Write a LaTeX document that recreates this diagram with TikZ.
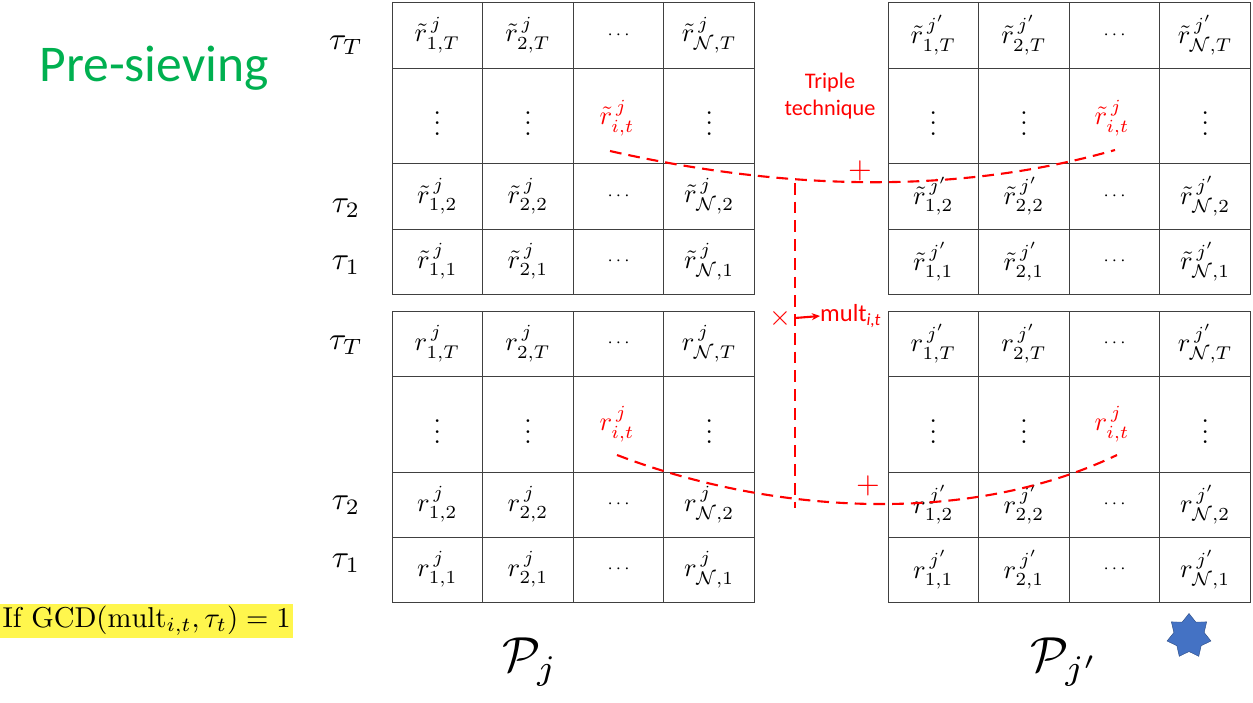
\documentclass[tikz,border=0pt]{standalone}
\usepackage{graphicx}
\usepackage{fontspec}
\setsansfont{Carlito}
\usetikzlibrary{shapes.geometric,arrows.meta}
\definecolor{pgreen}{RGB}{0,176,80}
\definecolor{starblue}{RGB}{68,114,196}
\newcommand{\cellm}[1]{\scalebox{2.25}{$#1$}}
\begin{document}
\begin{tikzpicture}[x=0.03cm,y=-0.03cm,
  gridline/.style={draw=black!75,line width=0.8pt},
  cell/.style={inner sep=0pt},
  redd/.style={red,line width=1.8pt,dash pattern=on 10pt off 6pt},
  redtxt/.style={red,font=\sffamily\fontsize{19}{23}\selectfont}]
\useasboundingbox (0,0) rectangle (1253,703);
% tables
\foreach \x/\ya/\yb/\yc/\yd/\ye/\tl/\pr/\nm in
 {392/2/68/163/229/294/\tilde{r}/j/A, 888/2/68/163/229/294/\tilde{r}/j'/B,
  392/311/376/472/537/602/r/j/C, 888/311/376/472/537/602/r/j'/D}{
  \pgfmathsetmacro{\w}{362.5}
  \pgfmathsetmacro{\ma}{(\ya+\yb)/2}
  \pgfmathsetmacro{\mb}{(\yb+\yc)/2}
  \pgfmathsetmacro{\mc}{(\yc+\yd)/2}
  \pgfmathsetmacro{\md}{(\yd+\ye)/2}
  \foreach \yy in {\ya,\yb,\yc,\yd,\ye} \draw[gridline] (\x,\yy) -- ++(\w,0);
  \foreach \k in {0,1,2,3,4} \draw[gridline] (\x+\k*\w/4,\ya) -- (\x+\k*\w/4,\ye);
  \foreach \k/\lab in {0/1,1/2,3/\mathcal{N}}{
    \node[cell] (\nm t\k) at (\x+\k*\w/4+\w/8,\ma) {\cellm{\tl^{\,\pr}_{\lab,T}}};
    \node[cell] (\nm b\k) at (\x+\k*\w/4+\w/8,\mc) {\cellm{\tl^{\,\pr}_{\lab,2}}};
    \node[cell] (\nm a\k) at (\x+\k*\w/4+\w/8,\md) {\cellm{\tl^{\,\pr}_{\lab,1}}};
    \node[cell] (\nm v\k) at (\x+\k*\w/4+\w/8,\mb) {\cellm{\vdots}};
  }
  \foreach \yy/\s in {\ma/t,\mc/b,\md/a}
    \node[cell] (\nm\s d) at (\x+2*\w/4+\w/8,\yy) {\scalebox{1.6}{$\cdots$}};
}
% tau labels
\foreach \y/\l/\n in {45/T/t1,208/2/t2,265/1/t3,345/T/t4,505/2/t5,563/1/t6}
  \node[cell] (\n) at (346,\y) {\scalebox{2.7}{$\tau_{\l}$}};
% red labels
\node[cell,red] (r1) at (617,118) {\cellm{\tilde{r}^{\,j}_{i,t}}};
\node[cell,red] (r2) at (1112,118) {\cellm{\tilde{r}^{\,j}_{i,t}}};
\node[cell,red] (r3) at (617,424) {\cellm{r^{\,j}_{i,t}}};
\node[cell,red] (r4) at (1112,424) {\cellm{r^{\,j}_{i,t}}};
\coordinate (c1) at (610,151); \coordinate (c2) at (1115,150);
\coordinate (c3) at (617,455); \coordinate (c4) at (1117,455);
\draw[redd] (c1) .. controls (760,185) and (940,200) .. (c2);
\draw[redd] (c3) .. controls (760,510) and (960,530) .. (c4);
\coordinate (v1) at (795,183); \coordinate (v2) at (795,508);
\draw[redd] (v1) -- (v2);
\coordinate (m0) at (795,318);
\node[red,font=\sffamily\fontsize{21}{24}\selectfont,inner sep=0pt,anchor=west] (mult) at (820,316) {mult\textsubscript{\itshape i,t}};
\draw[red,line width=1.8pt,-{Stealth[length=7pt,width=6pt]}] (m0) -- (mult.west);
\node[cell,red] (times) at (780,318) {\scalebox{2.4}{$\times$}};
\node[cell,red] (p1) at (860,171) {\scalebox{2.6}{$+$}};
\node[cell,red] (p2) at (868,486) {\scalebox{2.6}{$+$}};
\node[redtxt,align=center,inner sep=0pt] (tt) at (830,96) {Triple\\technique};
\node[pgreen,font=\sffamily\fontsize{44}{50}\selectfont,inner sep=0pt] (pre) at (154,68) {Pre-sieving};
\node[fill=yellow!70,inner sep=2pt,anchor=west] (gcd) at (0,621) {\scalebox{2.45}{If $\mathrm{GCD}(\mathrm{mult}_{i,t},\tau_t)=1$}};
\node[cell] (P1) at (530,662) {\scalebox{4.2}{$\mathcal{P}_j$}};
\node[cell] (P2) at (1065,662) {\scalebox{4.2}{$\mathcal{P}_{j'}$}};
\node[star,star points=7,star point ratio=1.45,fill=starblue,draw=starblue!70!black,minimum size=1.35cm,inner sep=0pt] (st) at (1189,636) {};
\end{tikzpicture}
\end{document}
